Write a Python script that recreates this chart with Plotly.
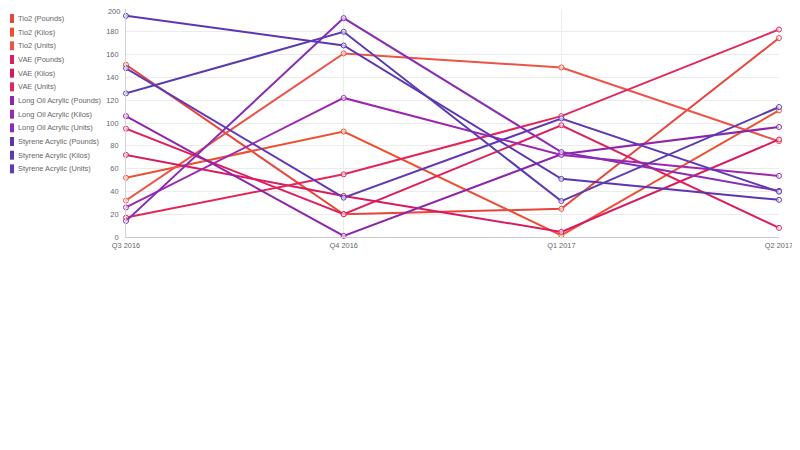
import plotly.graph_objects as go

categories = ["Q3 2016", "Q4 2016", "Q1 2017", "Q2 2017"]
series_names = [
    "Tio2 (Pounds)", "Tio2 (Kilos)", "Tio2 (Units)",
    "VAE (Pounds)", "VAE (Kilos)", "VAE (Units)",
    "Long Oil Acrylic (Pounds)", "Long Oil Acrylic (Kilos)", "Long Oil Acrylic (Units)",
    "Styrene Acrylic (Pounds)", "Styrene Acrylic (Kilos)", "Styrene Acrylic (Units)",
]
tio2_pounds = [151, 20, 24.7, 174.5]
tio2_kilos = [52, 92.5, 1.5, 111]
tio2_units = [32, 161, 148.7, 84]
vae_pounds = [95, 20, 98, 8]
vae_kilos = [72, 36, 4.5, 85.5]
vae_units = [17, 55, 106, 182]
loa_pounds = [106, 1, 72.5, 96.5]
loa_kilos = [26, 122, 72, 53.6]
loa_units = [14, 192, 74.5, 40.5]
sty_pounds = [194, 168, 51, 32.6]
sty_kilos = [126, 180, 31.5, 114]
sty_units = [148, 34.5, 104, 39.7]
y_ticks = [0, 20, 40, 60, 80, 100, 120, 140, 160, 180, 200]

series_values = [tio2_pounds, tio2_kilos, tio2_units, vae_pounds, vae_kilos, vae_units,
                 loa_pounds, loa_kilos, loa_units, sty_pounds, sty_kilos, sty_units]
colors = ["#e8453c", "#ee4f30", "#ec5447",
          "#de1f5c", "#d81b60", "#e3265a",
          "#8e24aa", "#9c27b0", "#8a2db5",
          "#5e35b1", "#5a3cb0", "#6239b5"]

FS = 7.4
GREY = "#666666"

fig = go.Figure()
for name, vals, col in zip(series_names, series_values, colors):
    fig.add_trace(go.Scatter(
        x=categories, y=vals, name=name, mode="lines+markers",
        line=dict(color=col, width=2),
        marker=dict(symbol="circle", size=5, color="rgba(255,255,255,0.6)",
                    line=dict(color=col, width=1)),
        showlegend=False, cliponaxis=False,
    ))

# page has an 8px body margin; figure coordinates are page coordinates minus 8
OFF = 8
W, H = 792, 420
L, R, T, B = 126 - OFF, 779 - OFF, 8.5 - OFF, 237 - OFF

def px(x):
    return (x - OFF - L) / (R - L)

def py(y):
    return (B - (y - OFF)) / (B - T)

# custom legend (left column)
for i, (name, col) in enumerate(zip(series_names, colors)):
    yc = 18 + i * 13.7
    fig.add_shape(type="rect", xref="paper", yref="paper",
                  x0=px(10), x1=px(14), y0=py(yc - 4.5), y1=py(yc + 4.5),
                  fillcolor=col, line=dict(width=0))
    fig.add_annotation(xref="paper", yref="paper", x=px(16), y=py(yc),
                       text=name, showarrow=False, xanchor="left", yanchor="middle",
                       font=dict(size=FS, color=GREY))

# top tick label placed as annotation so it stays inside the canvas
tick_text = [str(v) if v != y_ticks[-1] else "" for v in y_ticks]
fig.add_annotation(xref="paper", yref="y", x=0, y=y_ticks[-1], text=str(y_ticks[-1]),
                   showarrow=False, xanchor="right", yanchor="middle",
                   xshift=-4, yshift=-2.5, font=dict(size=FS, color=GREY))

fig.update_layout(
    width=W, height=H,
    margin=dict(l=L, r=W - R, t=T, b=H - B, autoexpand=False),
    paper_bgcolor="white", plot_bgcolor="white",
    font=dict(family="Liberation Sans, Arial, sans-serif", size=FS, color=GREY),
    xaxis=dict(type="category", range=[0, 3], showgrid=True, gridcolor="#ebebeb",
               showline=True, linecolor="#cccccc", tickfont=dict(size=FS, color=GREY),
               ticks="", ticklabelstandoff=1, zeroline=False, automargin=False),
    yaxis=dict(range=[0, 200], tickvals=y_ticks, ticktext=tick_text, showgrid=True,
               gridcolor="#ebebeb", showline=True, linecolor="#d5d5d5",
               tickfont=dict(size=FS, color=GREY),
               ticks="", ticklabelstandoff=5, zeroline=False, automargin=False),
    showlegend=False,
)

fig.write_html("out.html")
